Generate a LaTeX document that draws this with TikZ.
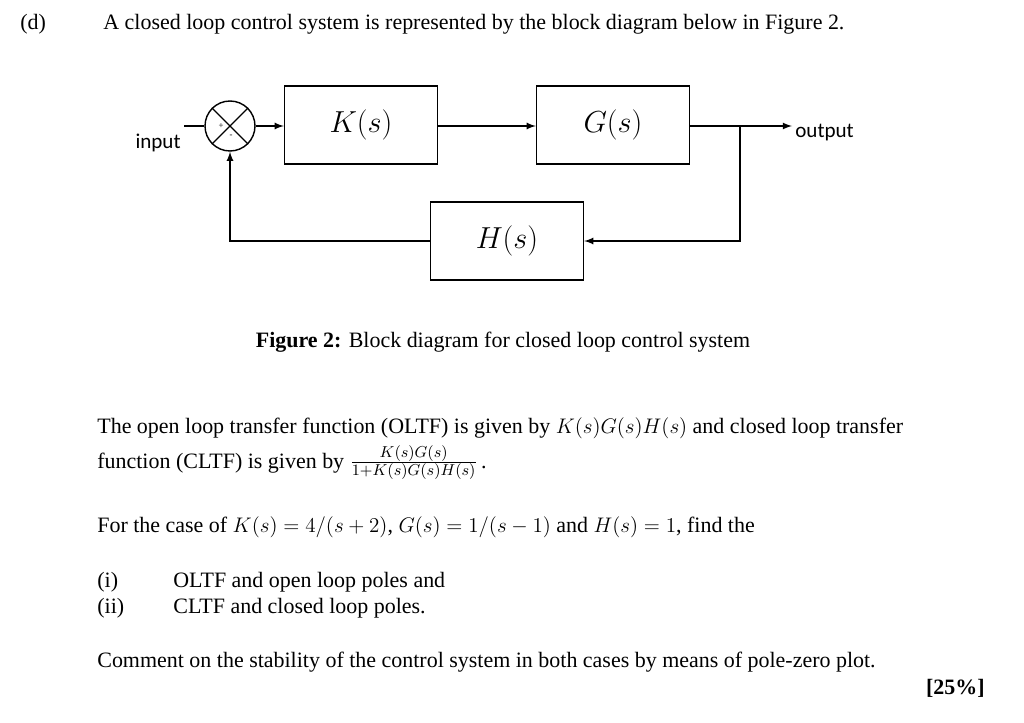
\documentclass[tikz,border=0pt]{standalone}
\usepackage{amsmath}
\usepackage{fontspec}
\setmainfont{Liberation Serif}
\newfontfamily\labelfont{Carlito}
\usetikzlibrary{positioning}
\tikzset{
  blk/.style={draw, thick, minimum width=3.06cm, minimum height=1.56cm, font=\fontsize{17}{20}\selectfont},
  txt/.style={anchor=base west, inner sep=0pt, font=\fontsize{12.5}{15}\selectfont},
  sigl/.style={inner sep=0pt, font=\labelfont\fontsize{12}{14}\selectfont},
  sig/.style={thick, -latex},
}
\begin{document}
\begin{tikzpicture}[x=0.02cm, y=-0.02cm]
\useasboundingbox (0,0) rectangle (1024,723);
% question heading
\node[txt] (lbl) at (20,30) {(d)};
\node[txt] (q) at (103,30) {A closed loop control system is represented by the block diagram below in Figure 2.};
% block diagram
\node[draw, thick, circle, minimum size=1cm, inner sep=0pt] (sum) at (230,126) {};
\draw[thick] (sum.north west) -- (sum.south east) (sum.north east) -- (sum.south west);
\node[font=\tiny] (pl) at (221,126) {+};
\node[font=\tiny] (mi) at (231,136) {-};
\node[blk] (K) at (361,125) {$K(s)$};
\node[blk] (G) at (613,125) {$G(s)$};
\node[blk] (H) at (507,241) {$H(s)$};
\coordinate (in) at (184,126);
\coordinate (out) at (792,126);
\coordinate (tap) at (740,126);
\coordinate (fb) at (230,241);
\node[sigl, anchor=base east] (inl) at (181,149) {input};
\node[sigl, anchor=base west] (outl) at (795,137) {output};
\draw[thick] (in) -- (sum.west);
\draw[sig] (sum.east) -- (K.west |- sum.east);
\draw[sig] (K.east |- sum.east) -- (G.west |- sum.east);
\draw[sig] (G.east |- sum.east) -- (out);
\draw[sig] (tap) |- (H.east);
\draw[sig] (H.west) -| (fb) -- (sum.south);
\node[txt, anchor=base] (cap) at (503,347) {\textbf{Figure 2:} Block diagram for closed loop control system};
% question text
\node[txt] (t1) at (97,433) {The open loop transfer function (OLTF) is given by $K(s)G(s)H(s)$ and closed loop transfer};
\node[txt] (t2) at (97,468) {function (CLTF) is given by $\frac{K(s)G(s)}{1+K(s)G(s)H(s)}\,$.};
\node[txt] (t3) at (97,532) {For the case of $K(s)=4/(s+2)$, $G(s)=1/(s-1)$ and $H(s)=1$, find the};
\node[txt] (i1) at (97,587) {(i)};
\node[txt] (i1t) at (173,587) {OLTF and open loop poles and};
\node[txt] (i2) at (97,613) {(ii)};
\node[txt] (i2t) at (173,613) {CLTF and closed loop poles.};
\node[txt] (t4) at (97,667) {Comment on the stability of the control system in both cases by means of pole-zero plot.};
\node[txt, anchor=base east] (pct) at (985,694) {\textbf{[25\%]}};
\end{tikzpicture}
\end{document}
